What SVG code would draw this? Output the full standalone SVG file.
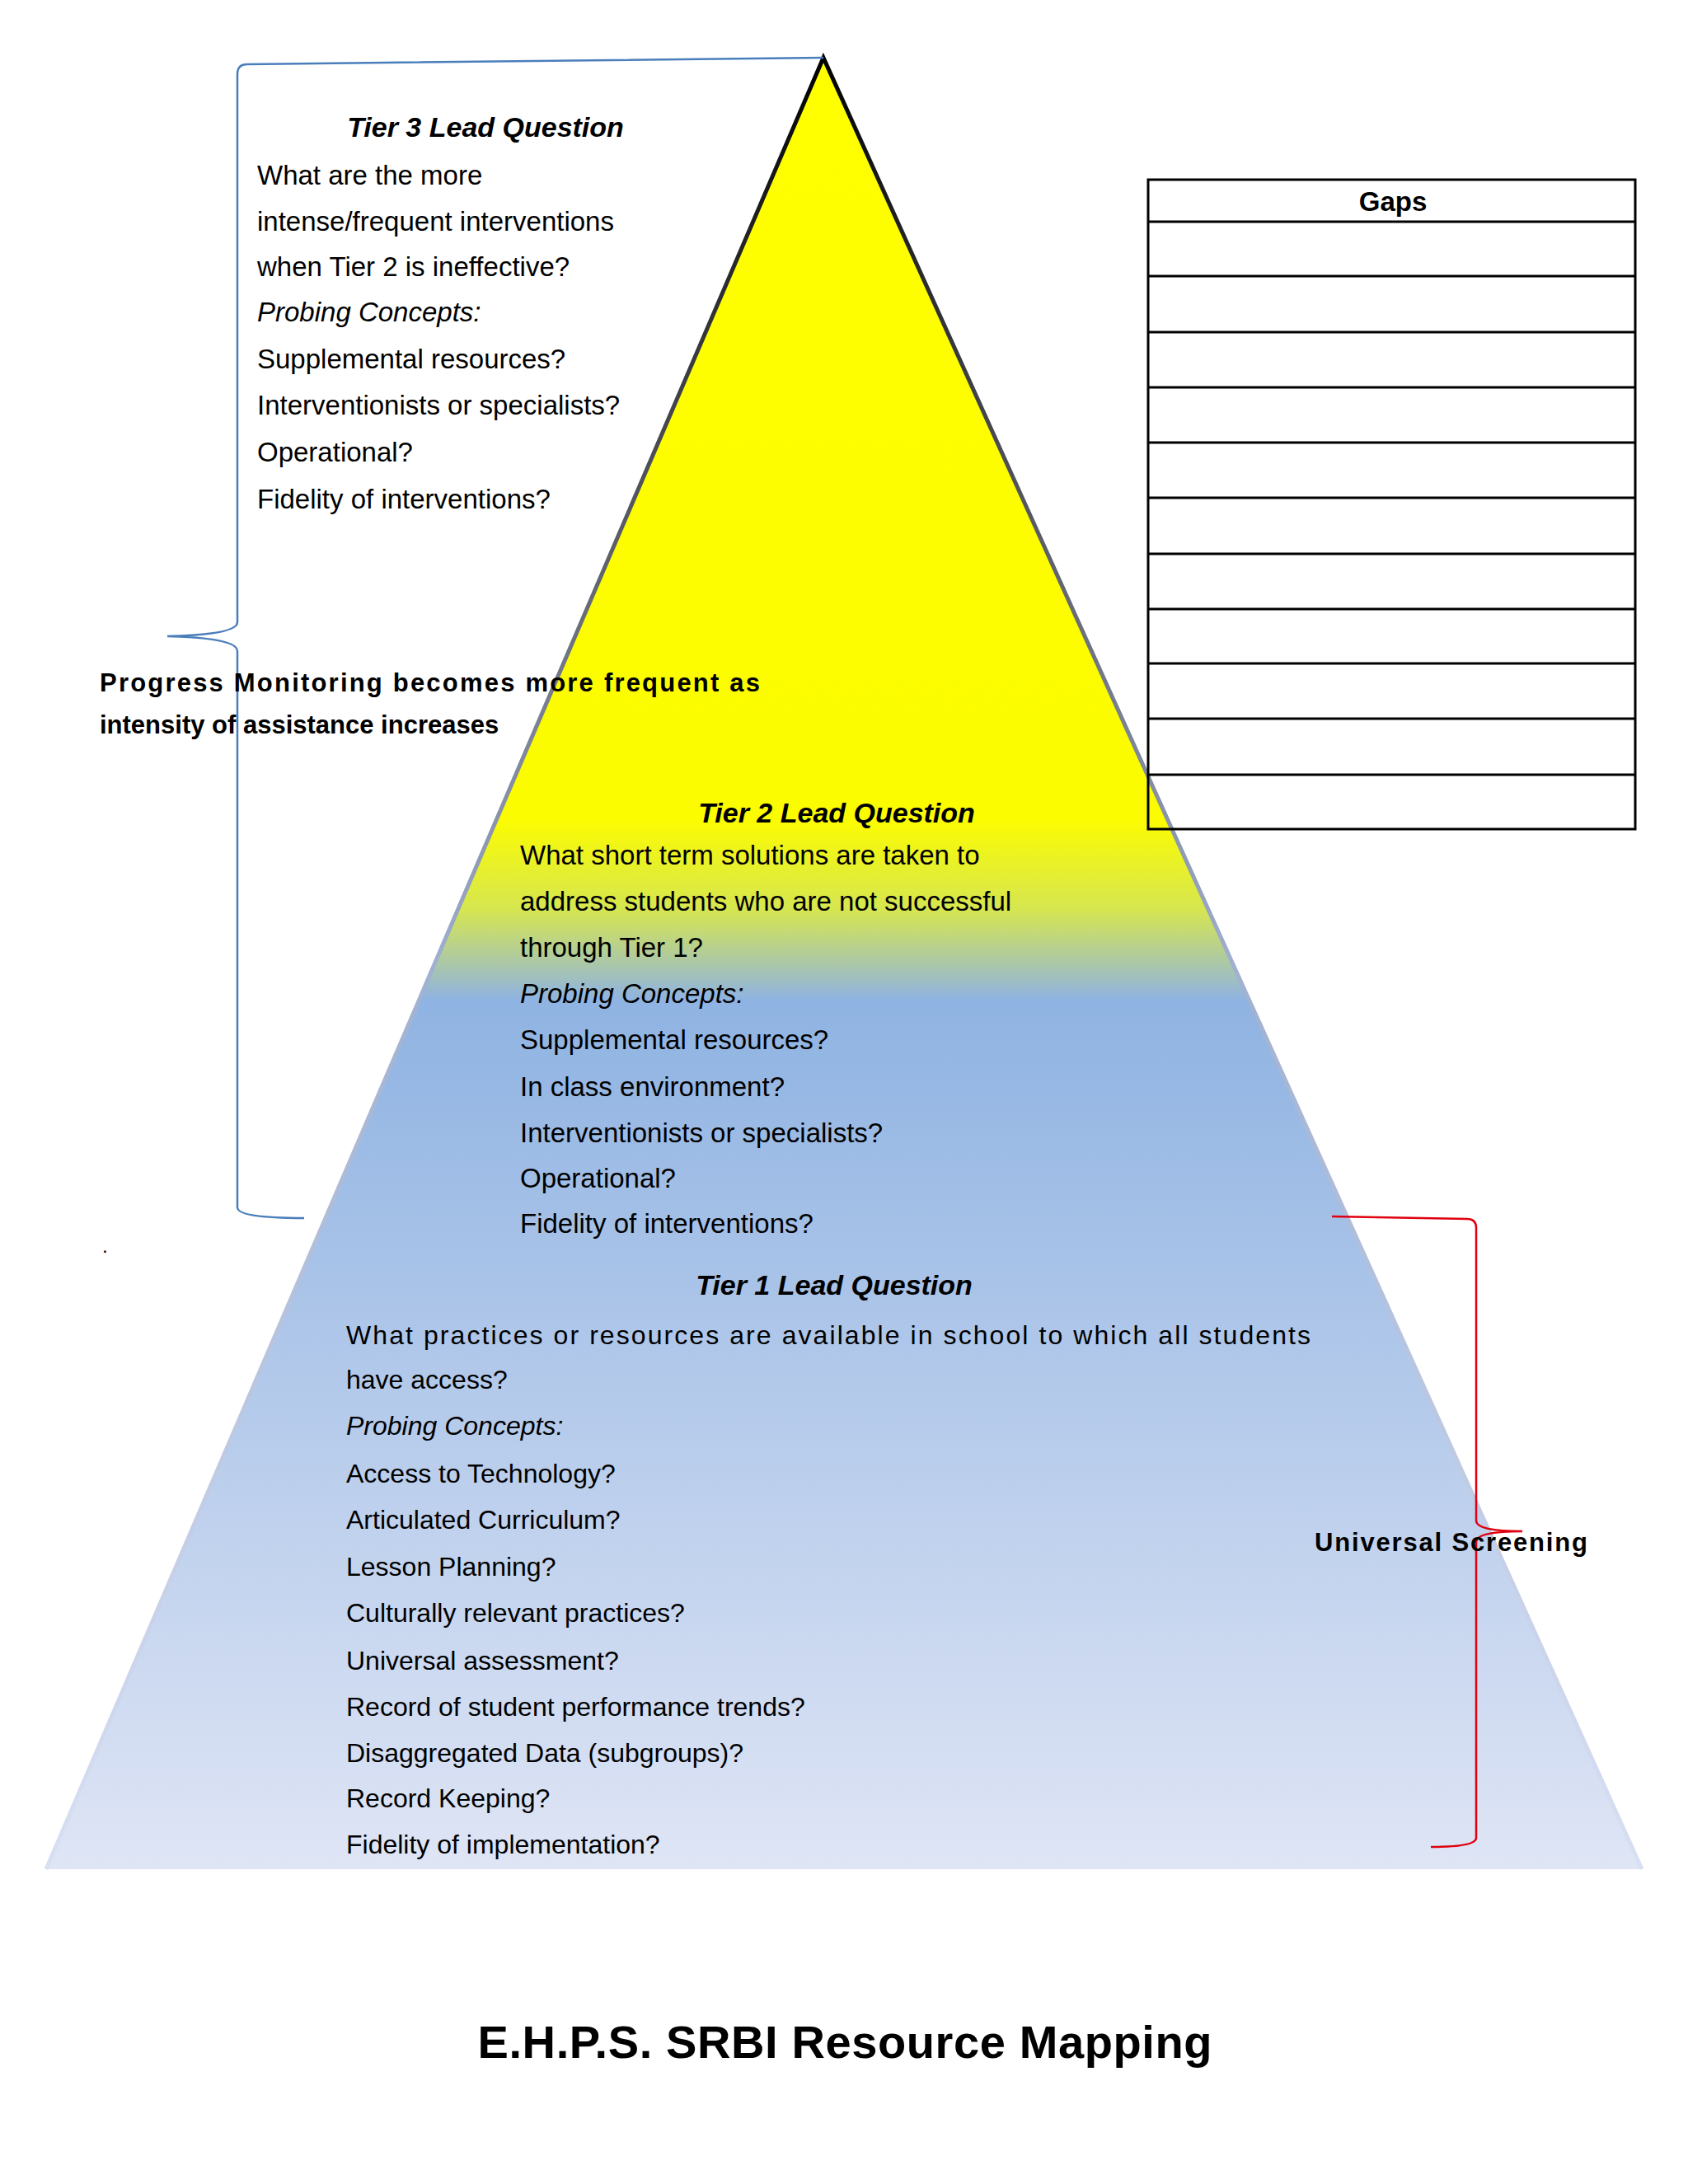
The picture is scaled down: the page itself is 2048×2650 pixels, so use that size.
<svg xmlns="http://www.w3.org/2000/svg" width="2048" height="2650" viewBox="0 0 2048 2650">
<defs>
<linearGradient id="fill" gradientUnits="userSpaceOnUse" x1="0" y1="70" x2="0" y2="2268">
<stop offset="0" stop-color="#ffff00"/>
<stop offset="0.42" stop-color="#fcfc00"/>
<stop offset="0.47" stop-color="#d6e650"/>
<stop offset="0.52" stop-color="#8fb3e2"/>
<stop offset="1" stop-color="#dfe5f5"/>
</linearGradient>
<linearGradient id="edge" gradientUnits="userSpaceOnUse" x1="0" y1="70" x2="0" y2="2268">
<stop offset="0" stop-color="#000"/>
<stop offset="0.3" stop-color="#666a75"/>
<stop offset="0.5" stop-color="#a0b0d0"/>
<stop offset="1" stop-color="#d8e0f3"/>
</linearGradient>
<style>
text{font-family:"Liberation Sans",Arial,sans-serif;fill:#000}
.b{font-size:33px}
.i{font-size:33px;font-style:italic}
.h{font-size:34px;font-weight:bold;font-style:italic}
.bd{font-size:31px;font-weight:bold}
.t1{font-size:32px}
</style>
</defs>
<rect width="2048" height="2650" fill="#fff"/>
<g id="pyramid">
<polygon points="999,70 56,2268 1992,2268" fill="url(#fill)"/>
<polyline points="56,2268 999,70 1992,2268" fill="none" stroke="url(#edge)" stroke-width="5"/>
</g>
<g id="connectors" fill="none">
<path d="M999,70 L300,78 Q288,78 288,90 L288,755 Q288,770 203,772 Q288,774 288,790 L288,1465 Q288,1478 369,1478" stroke="#4a7ebb" stroke-width="2.5"/>
<path d="M1616,1476 L1780,1479 Q1791,1479 1791,1490 L1791,1845 Q1791,1858 1847,1858 Q1791,1858 1791,1871 L1791,2230 Q1791,2241 1736,2241" stroke="#e0000f" stroke-width="2.5"/>
</g>
<g id="tier3">
<text class="h" x="589" y="166" text-anchor="middle">Tier 3 Lead Question</text>
<text class="b" x="312" y="224">What are the more</text>
<text class="b" x="312" y="280">intense/frequent interventions</text>
<text class="b" x="312" y="335">when Tier 2 is ineffective?</text>
<text class="i" x="312" y="390">Probing Concepts:</text>
<text class="b" x="312" y="447">Supplemental resources?</text>
<text class="b" x="312" y="503">Interventionists or specialists?</text>
<text class="b" x="312" y="560">Operational?</text>
<text class="b" x="312" y="617">Fidelity of interventions?</text>
</g>
<g id="progress">
<text class="bd" x="121" y="839" textLength="801">Progress Monitoring becomes more frequent as</text>
<text class="bd" x="121" y="890">intensity of assistance increases</text>
</g>
<g id="tier2">
<text class="h" x="1015" y="998" text-anchor="middle">Tier 2 Lead Question</text>
<text class="b" x="631" y="1049">What short term solutions are taken to</text>
<text class="b" x="631" y="1105">address students who are not successful</text>
<text class="b" x="631" y="1161">through Tier 1?</text>
<text class="i" x="631" y="1217">Probing Concepts:</text>
<text class="b" x="631" y="1273">Supplemental resources?</text>
<text class="b" x="631" y="1330">In class environment?</text>
<text class="b" x="631" y="1386">Interventionists or specialists?</text>
<text class="b" x="631" y="1441">Operational?</text>
<text class="b" x="631" y="1496">Fidelity of interventions?</text>
</g>
<text x="124" y="1520" font-size="24">.</text>
<g id="tier1">
<text class="h" x="1012" y="1571" text-anchor="middle">Tier 1 Lead Question</text>
<text class="t1" x="420" y="1631" textLength="1170">What practices or resources are available in school to which all students</text>
<text class="t1" x="420" y="1685">have access?</text>
<text class="t1" x="420" y="1741" font-style="italic">Probing Concepts:</text>
<text class="t1" x="420" y="1799">Access to Technology?</text>
<text class="t1" x="420" y="1855">Articulated Curriculum?</text>
<text class="t1" x="420" y="1912">Lesson Planning?</text>
<text class="t1" x="420" y="1968">Culturally relevant practices?</text>
<text class="t1" x="420" y="2026">Universal assessment?</text>
<text class="t1" x="420" y="2082">Record of student performance trends?</text>
<text class="t1" x="420" y="2138">Disaggregated Data (subgroups)?</text>
<text class="t1" x="420" y="2193">Record Keeping?</text>
<text class="t1" x="420" y="2249">Fidelity of implementation?</text>
</g>
<g id="universal">
<text class="bd" x="1595" y="1882" textLength="331">Universal Screening</text>
</g>
<g id="gaps" stroke="#000" stroke-width="3" fill="none">
<rect x="1393" y="218" width="591" height="788"/>
<path d="M1393,269H1984M1393,335H1984M1393,403H1984M1393,470H1984M1393,537H1984M1393,604H1984M1393,672H1984M1393,739H1984M1393,805H1984M1393,872H1984M1393,940H1984"/>
<text x="1690" y="256" text-anchor="middle" font-size="33" font-weight="bold" stroke="none" fill="#000">Gaps</text>
</g>
<text x="1025" y="2497" text-anchor="middle" font-size="56" font-weight="bold" textLength="891">E.H.P.S. SRBI Resource Mapping</text>
</svg>
